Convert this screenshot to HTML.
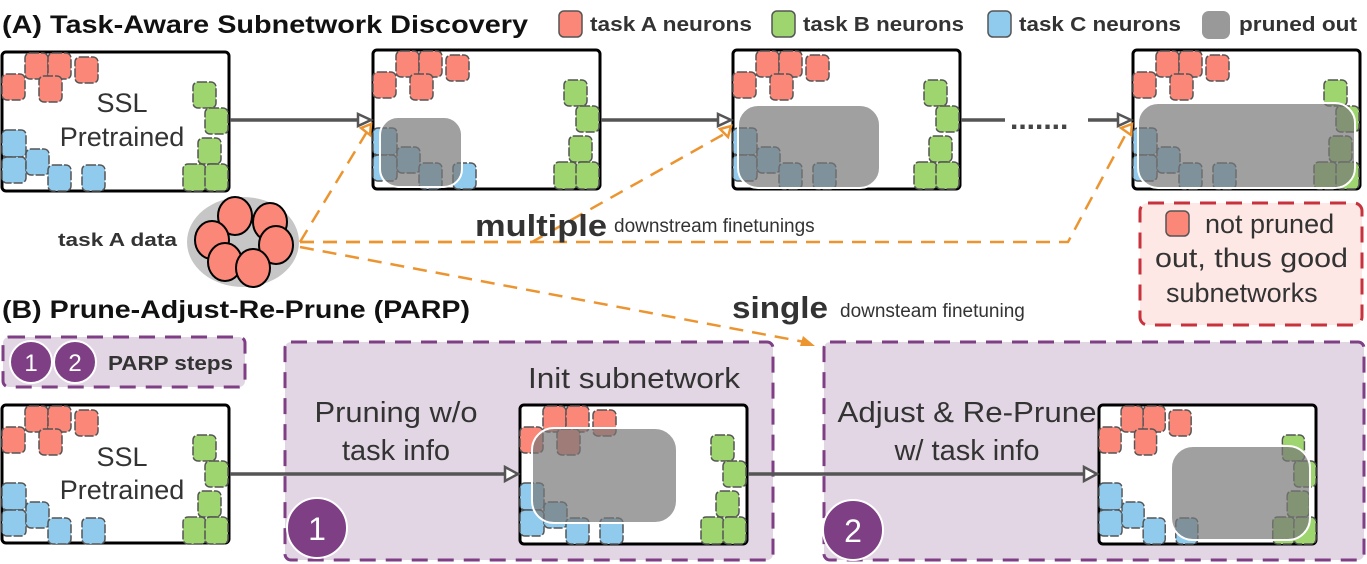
<!DOCTYPE html>
<html><head><meta charset="utf-8"><style>
body{margin:0;background:#fff;}
svg{display:block;font-family:"Liberation Sans",sans-serif;}
</style></head><body>
<svg width="1367" height="564" viewBox="0 0 1367 564" xmlns="http://www.w3.org/2000/svg">
<defs>
<g id="net">
 <g stroke="#555" stroke-width="1.5" stroke-dasharray="9,2">
  <rect x="23" y="1" width="23" height="26" rx="5" fill="#fa8778"/>
  <rect x="46" y="1" width="23" height="26" rx="5" fill="#fa8778"/>
  <rect x="73" y="5" width="23" height="26" rx="5" fill="#fa8778"/>
  <rect x="0" y="22" width="23" height="26" rx="5" fill="#fa8778"/>
  <rect x="37" y="24" width="23" height="26" rx="5" fill="#fa8778"/>
  <rect x="191" y="30" width="23" height="26" rx="5" fill="#9ed56f"/>
  <rect x="203" y="56" width="23" height="26" rx="5" fill="#9ed56f"/>
  <rect x="196" y="86" width="23" height="26" rx="5" fill="#9ed56f"/>
  <rect x="181" y="112" width="23" height="27" rx="5" fill="#9ed56f"/>
  <rect x="203" y="112" width="23" height="27" rx="5" fill="#9ed56f"/>
  <rect x="0" y="78" width="24" height="27" rx="5" fill="#90cbee"/>
  <rect x="0" y="105" width="24" height="26" rx="5" fill="#90cbee"/>
  <rect x="24" y="97" width="23" height="26" rx="5" fill="#90cbee"/>
  <rect x="46" y="113" width="23" height="26" rx="5" fill="#90cbee"/>
  <rect x="80" y="113" width="23" height="26" rx="5" fill="#90cbee"/>
 </g>
</g>
</defs>

<text x="2" y="33" font-size="25" font-weight="bold" fill="#111" textLength="526" lengthAdjust="spacingAndGlyphs">(A) Task-Aware Subnetwork Discovery</text>
<g stroke="#555" stroke-width="1.5">
<rect x="559" y="11" width="23" height="26" rx="5" fill="#fa8778"/>
<rect x="772" y="11" width="23" height="26" rx="5" fill="#9ed56f"/>
<rect x="988" y="11" width="23" height="26" rx="5" fill="#90cbee"/>
</g>
<rect x="1202" y="11" width="28" height="28" rx="7" fill="#999"/>
<g font-size="20" font-weight="bold" fill="#333">
<text x="590" y="31" textLength="162" lengthAdjust="spacingAndGlyphs">task A neurons</text>
<text x="803" y="31" textLength="161" lengthAdjust="spacingAndGlyphs">task B neurons</text>
<text x="1019" y="31" textLength="162" lengthAdjust="spacingAndGlyphs">task C neurons</text>
<text x="1239" y="31" textLength="118" lengthAdjust="spacingAndGlyphs">pruned out</text>
</g>

<rect x="2" y="52" width="227" height="139" rx="4" fill="#fff" stroke="#000" stroke-width="3"/>
<use href="#net" x="2" y="52"/>
<text x="122" y="112" font-size="27" fill="#333" text-anchor="middle">SSL</text>
<text x="122" y="146" font-size="27" fill="#333" text-anchor="middle">Pretrained</text>

<rect x="373" y="50" width="227" height="139" rx="4" fill="#fff" stroke="#000" stroke-width="3"/>
<use href="#net" x="373" y="50"/>
<rect x="380" y="117" width="82" height="70" rx="18" fill="rgb(120,120,120)" fill-opacity="0.7" stroke="#fff" stroke-width="2"/>

<rect x="733" y="50" width="227" height="139" rx="4" fill="#fff" stroke="#000" stroke-width="3"/>
<use href="#net" x="733" y="50"/>
<rect x="738" y="105" width="142" height="83" rx="20" fill="rgb(120,120,120)" fill-opacity="0.7" stroke="#fff" stroke-width="2"/>

<rect x="1133" y="50" width="227" height="139" rx="4" fill="#fff" stroke="#000" stroke-width="3"/>
<use href="#net" x="1133" y="50"/>
<rect x="1138" y="103" width="217" height="85" rx="20" fill="rgb(120,120,120)" fill-opacity="0.7" stroke="#fff" stroke-width="2"/>

<g stroke="#555" stroke-width="3.5" fill="none">
<line x1="230" y1="120" x2="360" y2="120"/>
<line x1="601" y1="120" x2="720" y2="120"/>
<line x1="961" y1="120" x2="1005" y2="120"/>
<line x1="1088" y1="120" x2="1120" y2="120"/>
</g>
<text x="1010" y="129" font-size="30" font-weight="bold" fill="#444">.......</text>
<g fill="#fff" stroke="#555" stroke-width="2.5">
<path d="M358,114 L371,120 L358,126 Z"/>
<path d="M718,114 L731,120 L718,126 Z"/>
<path d="M1118,114 L1131,120 L1118,126 Z"/>
</g>

<g stroke="#ec9530" stroke-width="2.5" fill="none" stroke-dasharray="14,9">
<path d="M300,242 L368,130"/>
<path d="M300,242 L1068,242 L1128,130"/>
<path d="M300,242 L532,242 L726,133"/>
<path d="M300,247 L810,343"/>
</g>
<g fill="#fff" stroke="#ec9530" stroke-width="2.5">
<path d="M361,128 L371,124 L370,135 Z"/>
<path d="M720,129 L731,126 L728,137 Z"/>
<path d="M1121,128 L1132,124 L1131,135 Z"/>
</g>
<path d="M803,336 L815,346 L800,346 Z" fill="#ec9530"/>

<text x="58" y="246" font-size="18" font-weight="bold" fill="#333" textLength="119" lengthAdjust="spacingAndGlyphs">task A data</text>
<ellipse cx="243" cy="242" rx="56" ry="45" fill="#c6c6c6"/>
<g fill="#fa8778" stroke="#000" stroke-width="2">
<ellipse cx="235" cy="216" rx="17" ry="19"/>
<ellipse cx="270" cy="222" rx="17" ry="19"/>
<ellipse cx="212" cy="240" rx="17" ry="19"/>
<ellipse cx="276" cy="245" rx="17" ry="19"/>
<ellipse cx="225" cy="262" rx="17" ry="19"/>
<ellipse cx="253" cy="268" rx="17" ry="19"/>
</g>

<text x="475" y="236" font-size="31" font-weight="bold" fill="#333" textLength="132" lengthAdjust="spacingAndGlyphs">multiple</text>
<text x="614" y="232" font-size="19" fill="#333">downstream finetunings</text>

<rect x="1140" y="203" width="222" height="122" rx="8" fill="#fde8e6" stroke="#c8323c" stroke-width="3" stroke-dasharray="16,10"/>
<rect x="1166" y="211" width="23" height="25" rx="5" fill="#fa8778" stroke="#555" stroke-width="1.5"/>
<g font-size="27" fill="#333">
<text x="1205" y="233">not pruned</text>
<text x="1155" y="267" textLength="193" lengthAdjust="spacingAndGlyphs">out, thus good</text>
<text x="1166" y="302">subnetworks</text>
</g>

<text x="2" y="318" font-size="25" font-weight="bold" fill="#111" textLength="468" lengthAdjust="spacingAndGlyphs">(B) Prune-Adjust-Re-Prune (PARP)</text>
<text x="732" y="318" font-size="31" font-weight="bold" fill="#333" textLength="96" lengthAdjust="spacingAndGlyphs">single</text>
<text x="840" y="317" font-size="19" fill="#333">downsteam finetuning</text>

<rect x="3" y="337" width="242" height="50" rx="6" fill="#e2d6e4" stroke="#7e3f85" stroke-width="3" stroke-dasharray="16,10"/>
<circle cx="31" cy="362" r="21" fill="#7e3f85" stroke="#fff" stroke-width="2"/>
<circle cx="75" cy="362" r="21" fill="#7e3f85" stroke="#fff" stroke-width="2"/>
<text x="31" y="371" font-size="24" fill="#fff" text-anchor="middle">1</text>
<text x="75" y="371" font-size="24" fill="#fff" text-anchor="middle">2</text>
<text x="108" y="370" font-size="20" font-weight="bold" fill="#333" textLength="125" lengthAdjust="spacingAndGlyphs">PARP steps</text>

<rect x="285" y="342" width="488" height="218" rx="6" fill="#e2d6e4" stroke="#7e3f85" stroke-width="3" stroke-dasharray="16,10"/>
<rect x="824" y="342" width="540" height="218" rx="6" fill="#e2d6e4" stroke="#7e3f85" stroke-width="3" stroke-dasharray="16,10"/>

<g font-size="29" fill="#333" text-anchor="middle">
<text x="634" y="388" textLength="212" lengthAdjust="spacingAndGlyphs">Init subnetwork</text>
<text x="396" y="422" textLength="163" lengthAdjust="spacingAndGlyphs">Pruning w/o</text>
<text x="396" y="460">task info</text>
<text x="967" y="422" textLength="259" lengthAdjust="spacingAndGlyphs">Adjust &amp; Re-Prune</text>
<text x="967" y="460">w/ task info</text>
</g>

<rect x="2" y="405" width="227" height="138" rx="4" fill="#fff" stroke="#000" stroke-width="3"/>
<use href="#net" x="2" y="405"/>
<text x="122" y="466" font-size="27" fill="#333" text-anchor="middle">SSL</text>
<text x="122" y="499" font-size="27" fill="#333" text-anchor="middle">Pretrained</text>

<rect x="520" y="405" width="227" height="139" rx="4" fill="#fff" stroke="#000" stroke-width="3"/>
<use href="#net" x="520" y="405"/>
<rect x="532" y="428" width="145" height="95" rx="22" fill="rgb(120,120,120)" fill-opacity="0.7" stroke="#fff" stroke-width="2"/>

<rect x="1099" y="405" width="217" height="139" rx="4" fill="#fff" stroke="#000" stroke-width="3"/>
<use href="#net" transform="translate(1099,405) scale(0.96,1)"/>
<rect x="1171" y="446" width="139" height="94" rx="22" fill="rgb(120,120,120)" fill-opacity="0.7" stroke="#fff" stroke-width="2"/>

<g stroke="#555" stroke-width="3.5">
<line x1="230" y1="474" x2="508" y2="474"/>
<line x1="748" y1="474" x2="1087" y2="474"/>
</g>
<g fill="#fff" stroke="#555" stroke-width="2.5">
<path d="M505,467 L518,474 L505,481 Z"/>
<path d="M1084,467 L1097,474 L1084,481 Z"/>
</g>

<circle cx="317" cy="528" r="30" fill="#7e3f85" stroke="#fff" stroke-width="2"/>
<text x="317" y="540" font-size="32" fill="#fff" text-anchor="middle">1</text>
<circle cx="853" cy="530" r="30" fill="#7e3f85" stroke="#fff" stroke-width="2"/>
<text x="853" y="542" font-size="32" fill="#fff" text-anchor="middle">2</text>
</svg>
</body></html>
